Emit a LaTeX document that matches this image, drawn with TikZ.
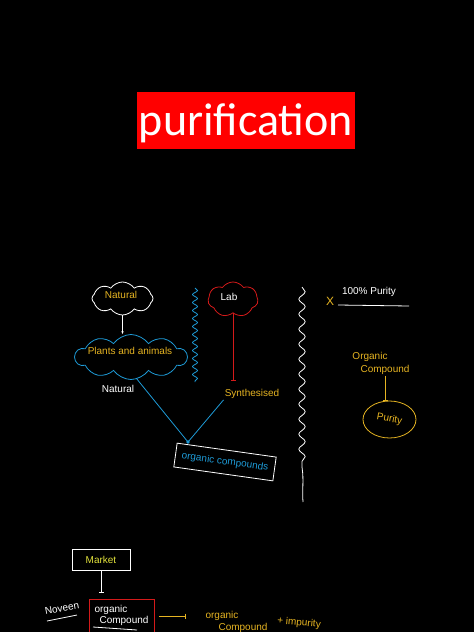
\documentclass[tikz,border=0pt]{standalone}
\usepackage{fontspec}
\setmainfont{Liberation Sans}
\newfontfamily\titlefont{Carlito}
\usetikzlibrary{shapes.symbols,shapes.geometric,decorations.pathmorphing,arrows.meta}
\definecolor{chalkyellow}{HTML}{E6B422}
\definecolor{chalkblue}{HTML}{1E9BD7}
\definecolor{chalkred}{HTML}{D41A1A}
\definecolor{titlered}{HTML}{FF0000}
\definecolor{chalkgreen}{HTML}{E2E23C}
\tikzset{
  note/.style={font=\fontsize{10}{11}\selectfont, inner sep=1pt},
  puff/.style={cloud, cloud puffs=8, cloud puff arc=110, cloud ignores aspect, draw, line width=0.8pt, inner sep=0pt},
  wave/.style={decorate, decoration={snake, amplitude=3.2pt, segment length=15pt}, line width=0.8pt},
  bartip/.style={-{Bar[width=5pt]}},
  chalk/.style={line width=0.8pt},
}
\begin{document}
\begin{tikzpicture}[x=1pt,y=-1pt]
\useasboundingbox (0,0) rectangle (474,632);
\fill[black] (0,0) rectangle (474,632);
\fill[titlered] (137,92) rectangle (355,149);
\node[anchor=base, text=white, inner sep=0pt, font=\titlefont\fontsize{46}{50}\selectfont] (title) at (246,135) {purification};

\node[puff, draw=white, minimum width=61pt, minimum height=33pt] (natcloud) at (122.5,298.5) {};
\node[note, text=chalkyellow] (natural) at (121,295) {Natural};
\node[puff, draw=chalkblue, cloud puffs=10, minimum width=112pt, minimum height=45pt] (plantcloud) at (131,357) {};
\node[note, text=chalkyellow] (plants) at (130,351) {Plants and animals};
\node[puff, draw=chalkred, cloud puffs=7, minimum width=50pt, minimum height=35pt] (labcloud) at (233,299.5) {};
\node[note, text=white] (lab) at (229,297) {Lab};
\node[note, text=chalkyellow] (synth) at (252,394) {Synthesised};
\node[note, text=white] (natural2) at (118,389) {Natural};
\node[note, draw=white, chalk, text=chalkblue, rotate=-8, minimum width=100pt, minimum height=24pt] (compounds) at (225,462) {organic compounds};
\coordinate (meet) at (188,442);
\coordinate (labend) at (233,381);

\draw[chalk, white, -{Stealth[length=3pt]}] (natcloud.south) -- (natcloud.south |- plantcloud.north);
\draw[chalk, chalkred, bartip] (labcloud.south) -- (labend);
\draw[chalk, chalkblue] (plantcloud.-75) -- (meet);
\draw[chalk, chalkblue] (synth.south west) -- (meet);
\fill[chalkblue] (meet) circle (1.8);
\draw[wave, chalkblue, decoration={amplitude=2.5pt, segment length=8pt}] (195,288) -- (195,382);
\draw[wave, white] (302,287) -- (302,467);
\draw[chalk, white] (302,467) .. controls (304,480) and (302,490) .. (303,502);

\node[note, text=chalkyellow, font=\fontsize{12}{13}\selectfont] (cross) at (330,301) {X};
\node[note, text=white] (hundred) at (369,292) {100\% Purity};
\draw[chalk, white] (338,305) -- (409,306);
\node[note, text=chalkyellow] (orga) at (370,357) {Organic};
\node[note, text=chalkyellow] (cmpa) at (385,370) {Compound};
\node[ellipse, draw=chalkyellow, chalk, text=chalkyellow, minimum width=53pt, minimum height=37pt, inner sep=0pt, font=\fontsize{10}{11}\selectfont] (purity) at (389.5,419.5) {\rotatebox{-10}{Purity}};
\draw[chalk, chalkyellow, bartip] (cmpa.south) -- (cmpa.south |- purity.north);

\node[note, draw=white, chalk, text=chalkgreen, minimum width=58pt, minimum height=21pt] (market) at (101,559.5) {Market};
\node[note, text=white, rotate=10] (noveen) at (62,608) {Noveen};
\draw[chalk, white] (47,621) -- (77,615);
\node[draw=chalkred, chalk, minimum width=65pt, minimum height=45pt, anchor=north west] (redbox) at (89,599) {};
\node[note, text=white] (orgb) at (111,610) {organic};
\node[note, text=white] (cmpb) at (124,621) {Compound};
\draw[chalk, white] (93,627) -- (137,630);
\draw[chalk, white, bartip, shorten >=6pt] (market.south) -- (market.south |- redbox.north);
\node[note, text=chalkyellow] (orgc) at (222,616) {organic};
\node[note, text=chalkyellow] (cmpc) at (243,627.5) {Compound};
\node[note, text=chalkyellow, rotate=-5] (impure) at (299,623) {+ impurity};
\draw[chalk, chalkyellow, bartip, shorten <=4pt, shorten >=19pt] (redbox.east |- orgc) -- (orgc.west);
\end{tikzpicture}
\end{document}
